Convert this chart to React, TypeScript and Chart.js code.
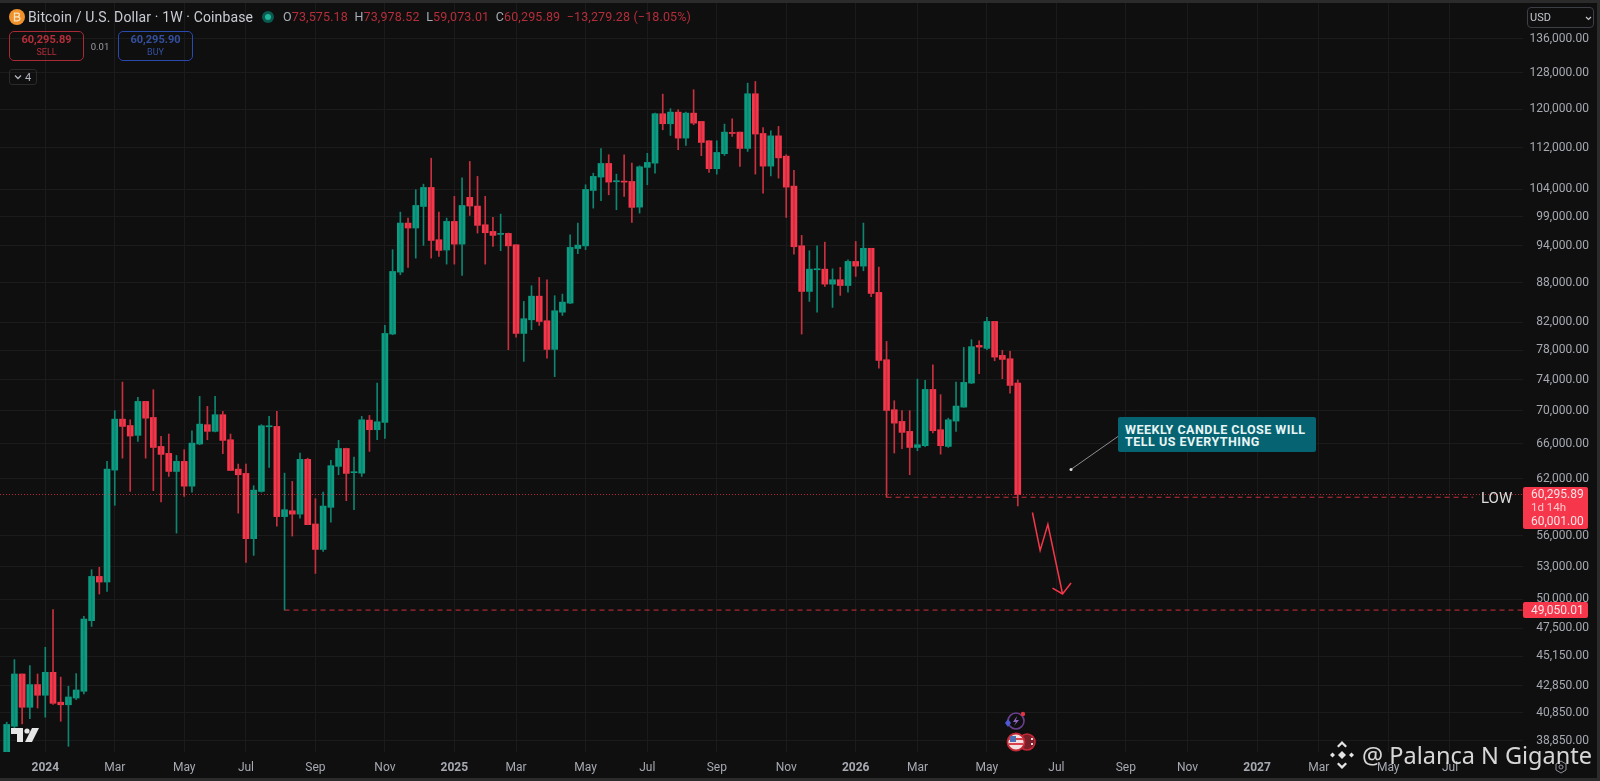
import React, { useEffect, useRef } from "react";
import { Chart, registerables } from "chart.js";

Chart.register(...registerables);

const opens = [37900,39860,43760,41235,42940,42130,43890,41610,41420,41920,42430,48130,52090,51570,62980,68980,68200,67010,71200,69190,65700,64890,62830,63970,61200,65980,68300,67490,69530,66490,63090,62610,55720,60630,68050,68090,57960,58570,58220,64200,57200,54660,58930,63400,65460,62690,62640,68860,67690,68580,
80300,89690,97900,97040,100850,104330,95030,93300,98190,94290,102500,100920,97610,96450,95940,96110,94180,80390,82370,85920,82230,78130,83500,84860,93550,93990,103770,106280,108900,105400,105520,105460,100730,108140,108960,119010,116900,119350,113940,119140,117380,113400,107880,110810,115100,115160,111860,123330,114890,108380,114400,110330,104580,94010,86650,90070,90170,87790,88480,87570,91420,90660,93590,86500,76700,70150,68700,67490,65580,65790,72740,67690,65700,68740,70480,73570,78690,78270,82130,77300,76840,73575.18];
const highs = [40150,44900,43760,44420,43760,45900,49090,43520,42810,43790,48500,52720,52940,63970,70030,73700,68900,71710,71200,72700,66890,67170,64650,65320,67570,71840,70570,71840,69940,67170,63660,63660,61250,68300,69320,69940,62640,61720,64930,64340,59850,60550,64090,66410,65500,64460,69320,69440,73570,81550,
93350,99840,98770,103910,104950,109920,99840,98770,102680,106130,109290,106410,102680,98890,99480,96170,94180,85120,87530,88840,88480,85990,86240,95880,97900,104830,107030,111840,110610,106840,110610,108960,108450,110890,119140,123250,120080,119860,119350,124220,117380,113400,113400,116820,117940,115160,125690,126070,116120,115440,116340,110610,107550,95770,93190,94010,94620,90230,90450,91700,94740,97900,93590,90500,79250,71290,70030,70030,74090,73920,76020,72060,69100,73700,78410,79490,79340,82720,82130,77990,77850,73978.52];
const lows = [37500,39740,40030,40410,41180,40510,41440,40220,38460,41800,42230,47640,50480,50720,59140,64340,60630,66290,64340,60710,59490,62270,56280,60090,60550,65900,66490,67410,64860,62940,58320,53420,54080,60550,63280,56990,49050.01,55980,57810,57130,52370,54470,57400,62460,59630,58680,62270,65120,66490,66650,
80200,89270,90450,91960,94070,91960,92240,90980,90980,89160,99250,96170,90980,93900,93190,78090,79850,76470,80920,81550,76920,74420,83010,84770,92690,93350,100550,101890,102970,100260,102680,98020,99660,104830,107030,115650,114480,111600,112460,116690,110420,107170,106840,110470,114280,108330,111260,106840,103280,106500,106080,98890,92620,80300,85120,83500,87420,84210,86040,86540,89000,89910,85830,75560,60001,64930,65430,62460,65200,65670,67290,64800,65580,67490,70450,73490,74810,78090,76560,74150,72260,59073.01];
const closes = [39990,43760,41235,42940,42130,43890,41530,41420,42000,42530,48270,52090,51570,63090,68980,68090,66930,71200,69100,65580,64770,62830,63970,61200,66090,68370,67490,69530,66410,62940,62460,55720,60770,68170,68120,57960,58680,58220,64200,57130,54660,59060,63480,65460,62610,62800,68900,67690,68660,80390,
89800,97900,97040,101030,104330,94910,93240,98190,94290,101030,100920,97500,96230,95770,96110,93990,80390,82530,85920,82130,78130,83710,85010,93740,94120,103960,106410,108900,105330,105590,105330,100680,108250,109100,119010,116900,119350,113940,119140,117030,113060,107880,111060,115160,114890,111860,123330,114770,108380,114400,109990,104390,93850,86650,90170,90230,87790,88480,87570,91420,90660,93590,86340,76610,70060,68490,67370,65580,65900,72740,67570,65790,68900,70610,73660,78510,78450,82130,77060,76740,73260,60295.89];

const priceTicks = [136000,128000,120000,112000,104000,99000,94000,88000,82000,78000,74000,70000,66000,62000,56000,53000,50000,47500,45150,42850,40850,38850];
const timeTickIndex = [5,14,23,31,40,49,58,66,75,83,92,101,110,118,127,136,145,153,162,170,179,187];
const timeTickLabels = ["2024","Mar","May","Jul","Sep","Nov","2025","Mar","May","Jul","Sep","Nov","2026","Mar","May","Jul","Sep","Nov","2027","Mar","May","Jul"];

const X_MIN = -0.868;
const X_MAX = 196.46;
const Y_MIN = 38070;
const Y_MAX = 145030;

const CLOSE_PRICE = 60295.89;
const LOW_PRICE = 60001;
const LOW_START = 114;
const LOW_END = 190;
const SUPPORT_PRICE = 49050.01;
const SUPPORT_START = 36;

const arrowX = [132.9,133.9,134.9,136.8];
const arrowY = [58390,54570,57160,50480];
const arrowHeadX = [135.5,136.8,137.9];
const arrowHeadY = [51020,50480,51480];
const calloutX = [144,137.9];
const calloutY = [66890,63060];

const UP = "#0b9c82";
const DOWN = "#f5364b";
const UP_WICK = "#0d8570";
const DOWN_WICK = "#c9303f";
const GRID = "#1b1b1b";
const TEXT = "#a6a9b1";
const FONT = "Roboto, sans-serif";

const pts = (xs: number[], ys: number[]) => xs.map((x, i) => ({ x, y: ys[i] }));

function Txt({ x, y, size = 12, color = TEXT, weight = 400, align = "left", children, font = FONT, spacing = 0, w = 200 }: any) {
  const h = Math.round(size * 1.4);
  const left = align === "left" ? x : align === "right" ? x - w : x - w / 2;
  return (
    <div style={{ position: "absolute", left, top: y - h / 2, width: w, height: h, lineHeight: h + "px", fontFamily: font, fontSize: size, fontWeight: weight, color, textAlign: align, whiteSpace: "nowrap", letterSpacing: spacing }}>
      {children}
    </div>
  );
}

function Box({ x, y, w, h, bg = "transparent", border, radius = 4 }: any) {
  return <div style={{ position: "absolute", left: x, top: y, width: w, height: h, boxSizing: "border-box", background: bg, border: border ? `1px solid ${border}` : "none", borderRadius: radius }} />;
}

export default function App() {
  const ref = useRef<HTMLCanvasElement | null>(null);
  useEffect(() => {
    const frame = {
      id: "frame",
      beforeDraw(c: any) {
        const g = c.ctx;
        g.save();
        g.fillStyle = "#2b2b2b";
        g.fillRect(0, 0, c.width, c.height);
        g.fillStyle = "#0f0f0f";
        g.fillRect(0, 3, 1597, 775);
        g.restore();
      },
    };
    const colors = opens.map((o, i) => (closes[i] >= o ? UP : DOWN));
    const wickColors = opens.map((o, i) => (closes[i] >= o ? UP_WICK : DOWN_WICK));
    const lineBase = { type: "line", pointRadius: 0, fill: false, tension: 0, parsing: { xAxisKey: "x", yAxisKey: "y" } };
    const chart = new Chart(ref.current as any, {
      type: "bar",
      data: {
        datasets: [
          { type: "line", ...lineBase, label: "close", data: pts([X_MIN, X_MAX], [CLOSE_PRICE, CLOSE_PRICE]), borderColor: "rgba(242,54,69,0.75)", borderWidth: 1, borderDash: [1, 2] },
          { type: "line", ...lineBase, label: "low", data: pts([LOW_START, LOW_END], [LOW_PRICE, LOW_PRICE]), borderColor: "rgba(242,54,69,0.8)", borderWidth: 1, borderDash: [5, 4] },
          { type: "line", ...lineBase, label: "support", data: pts([SUPPORT_START, X_MAX], [SUPPORT_PRICE, SUPPORT_PRICE]), borderColor: "rgba(242,54,69,0.85)", borderWidth: 1, borderDash: [5, 4] },
          { label: "wick", data: highs.map((h, i) => ({ x: i, y: [lows[i], h] })), backgroundColor: wickColors, barThickness: 1, grouped: false, minBarLength: 1 },
          { label: "body", data: opens.map((o, i) => ({ x: i, y: [o, closes[i]] })), backgroundColor: colors, barThickness: 6, grouped: false, minBarLength: 1 },
          { type: "line", ...lineBase, label: "arrow", data: pts(arrowX, arrowY), borderColor: "#f5364b", borderWidth: 1.5 },
          { type: "line", ...lineBase, label: "arrowHead", data: pts(arrowHeadX, arrowHeadY), borderColor: "#f5364b", borderWidth: 1.5 },
          { type: "line", ...lineBase, label: "callout", data: pts(calloutX, calloutY), borderColor: "#8b8d92", borderWidth: 1, pointRadius: [0, 1.5], pointBackgroundColor: "#e0e0e0", pointBorderWidth: 0 },
        ] as any,
      },
      plugins: [frame],
      options: {
        responsive: false,
        animation: false,
        layout: { autoPadding: false, padding: { left: 0, top: 3, right: 11, bottom: 3 } },
        plugins: { legend: { display: false }, tooltip: { enabled: false } },
        scales: {
          x: {
            type: "linear",
            min: X_MIN,
            max: X_MAX,
            offset: false,
            bounds: "data",
            grid: { color: GRID, offset: false, drawTicks: false },
            border: { display: false },
            afterBuildTicks: (s: any) => { s.ticks = timeTickIndex.map((value) => ({ value })); },
            afterFit: (s: any) => { s.height = 26; s.paddingLeft = 0; s.paddingRight = 0; },
            ticks: {
              autoSkip: false,
              maxRotation: 0,
              padding: 9,
              color: TEXT,
              font: (c: any) => ({ family: FONT, size: 12, weight: /^\d/.test(String(c.tick?.label)) ? "bold" : "normal" }),
              callback: (v: any) => { const k = timeTickIndex.indexOf(v); return k >= 0 ? timeTickLabels[k] : ""; },
            },
          },
          y: {
            type: "logarithmic",
            position: "right",
            min: Y_MIN,
            max: Y_MAX,
            bounds: "data",
            grid: { color: GRID, drawTicks: false },
            border: { display: false },
            afterBuildTicks: (s: any) => { s.ticks = priceTicks.map((value) => ({ value })); },
            afterFit: (s: any) => { s.width = 66; s.paddingTop = 0; s.paddingBottom = 0; },
            ticks: {
              autoSkip: false,
              crossAlign: "far",
              padding: 7,
              color: TEXT,
              font: { family: FONT, size: 12 },
              callback: (v: any) => Number(v).toLocaleString("en-US", { minimumFractionDigits: 2, maximumFractionDigits: 2 }),
            },
          },
        },
      } as any,
    });
    return () => chart.destroy();
  }, []);

  const red = "#b52e3a";
  const grey = "#a9acb5";
  return (
    <div style={{ position: "fixed", left: 0, top: 0, width: 1600, height: 781, overflow: "hidden" }}>
      <canvas ref={ref} width={1600} height={781} style={{ display: "block", position: "absolute", left: 0, top: 0 }} />

      {/* header */}
      <div style={{ position: "absolute", left: 9, top: 9, width: 16, height: 16, borderRadius: 8, background: "#f0922b" }} />
      <svg style={{ position: "absolute", left: 13, top: 12 }} width="8" height="10" viewBox="0 0 8 10">
        <path d="M1.5 0.5 V9.5 M1.5 1.2 H4.6 Q6.6 1.4 6.4 3 Q6.2 4.6 4.4 4.8 H1.5 M4.4 4.8 Q7.3 5 7 6.9 Q6.7 8.7 4.4 8.8 H1.5" fill="none" stroke="#fbe3c4" strokeWidth="1.3" />
      </svg>
      <Txt x={28} y={17} size={14} color="#c9ccd4" w={240} spacing={0.13}>Bitcoin / U.S. Dollar · 1W · Coinbase</Txt>
      <div style={{ position: "absolute", left: 262, top: 11, width: 12, height: 12, borderRadius: 6, background: "#0a5a50" }} />
      <div style={{ position: "absolute", left: 265, top: 14, width: 6, height: 6, borderRadius: 3, background: "#1fb59a" }} />
      <Txt x={283} y={17} size={12.5} color={grey} w={420} spacing={0.14}>
        O<span style={{ color: red }}>73,575.18</span>&nbsp;&nbsp;H<span style={{ color: red }}>73,978.52</span>&nbsp;&nbsp;L<span style={{ color: red }}>59,073.01</span>&nbsp;&nbsp;C<span style={{ color: red }}>60,295.89</span>&nbsp;&nbsp;<span style={{ color: red }}>−13,279.28 (−18.05%)</span>
      </Txt>

      <Box x={9} y={31} w={75} h={30} border="#a82a35" radius={5} />
      <Txt x={46.5} y={39.5} size={11} weight={700} color={red} w={75} align="center">60,295.89</Txt>
      <Txt x={46.5} y={52} size={9} color={red} w={75} align="center">SELL</Txt>
      <Txt x={100} y={46} size={9.5} color="#9a9da5" w={30} align="center">0.01</Txt>
      <Box x={118} y={31} w={75} h={30} border="#2a49ad" radius={5} />
      <Txt x={155.5} y={39.5} size={11} weight={700} color="#34509f" w={75} align="center">60,295.90</Txt>
      <Txt x={155.5} y={52} size={9} color="#34509f" w={75} align="center">BUY</Txt>

      <Box x={9} y={69} w={28} h={16} border="#2a2a2a" radius={3} />
      <svg style={{ position: "absolute", left: 14, top: 74 }} width="8" height="6" viewBox="0 0 8 6"><path d="M1 1.5 L4 4.5 L7 1.5" fill="none" stroke="#b2b5be" strokeWidth="1.3" /></svg>
      <Txt x={25} y={77} size={11} color="#b2b5be" w={10}>4</Txt>

      {/* currency */}
      <Box x={1527} y={7} w={67} h={21} border="#3c3f46" radius={4} />
      <Txt x={1530} y={17} size={11} color="#c4c7ce" w={30}>USD</Txt>
      <svg style={{ position: "absolute", left: 1585, top: 16 }} width="7" height="5" viewBox="0 0 7 5"><path d="M1 1 L3.5 3.5 L6 1" fill="none" stroke="#c4c7ce" strokeWidth="1.2" /></svg>

      {/* callout */}
      <Box x={1118} y={417} w={198} h={35} bg="#066472" radius={2} />
      <Txt x={1125} y={429.5} size={12.5} weight={700} color="#e8f5f6" w={190} spacing={0.5}>WEEKLY CANDLE CLOSE WILL</Txt>
      <Txt x={1125} y={441.5} size={12.5} weight={700} color="#e8f5f6" w={190} spacing={0.5}>TELL US EVERYTHING</Txt>

      {/* price labels */}
      <Txt x={1481} y={498} size={15} color="#dcdcdc" w={36}>LOW</Txt>
      <Box x={1523} y={487} w={65} h={42} bg="#f5364b" radius={2} />
      <Txt x={1531} y={494.5} size={12} color="#ffe3e6" w={56}>60,295.89</Txt>
      <Txt x={1531} y={506.5} size={11.5} color="#ffc9cf" w={56}>1d 14h</Txt>
      <Txt x={1531} y={521} size={12} color="#ffe3e6" w={56}>60,001.00</Txt>
      <Box x={1523} y={602} w={65} h={16} bg="#f5364b" radius={2} />
      <Txt x={1531} y={610} size={12} color="#ffe3e6" w={56}>49,050.01</Txt>

      {/* TV logo */}
      <svg style={{ position: "absolute", left: 11, top: 728 }} width="28" height="14" viewBox="0 0 28 14">
        <path d="M0 0 H12 V14 H6 V6 H0 Z" fill="#e6e6e6" />
        <circle cx="16" cy="3" r="2.6" fill="#e6e6e6" />
        <path d="M21 0 H28 L21 14 H14 Z" fill="#e6e6e6" />
      </svg>

      {/* event icons */}
      <svg style={{ position: "absolute", left: 1002, top: 708 }} width="36" height="46" viewBox="0 0 36 46">
        <circle cx="14" cy="13" r="8" fill="none" stroke="#6a3f8f" strokeWidth="1.6" />
        <path d="M15 8 L11 14 H14 L12 18 L17 12 H14 Z" fill="#8e63c4" />
        <path d="M6 11 L9 15 L6 19 L3 15 Z" fill="#4f58d6" />
        <circle cx="21" cy="6" r="2.2" fill="#e2333f" />
        <circle cx="25" cy="34" r="8" fill="#7a1f28" stroke="#c32a36" strokeWidth="1.6" />
        <circle cx="14" cy="34" r="8.5" fill="#f3dfe0" stroke="#c32a36" strokeWidth="1.8" />
        <rect x="7" y="30" width="14" height="2" fill="#d8404c" />
        <rect x="7" y="35" width="14" height="2" fill="#d8404c" />
        <rect x="8" y="28" width="6" height="6" fill="#4d6fb3" />
        <rect x="29" y="30" width="2" height="2" fill="#f3dfe0" />
        <rect x="29" y="35" width="2" height="2" fill="#f3dfe0" />
      </svg>

      {/* settings glyph */}
      <svg style={{ position: "absolute", left: 1554, top: 760 }} width="14" height="14" viewBox="0 0 14 14">
        <path d="M7 1 L12 4 V10 L7 13 L2 10 V4 Z" fill="none" stroke="#8f9299" strokeWidth="1" />
        <circle cx="7" cy="7" r="2" fill="none" stroke="#8f9299" strokeWidth="1" />
      </svg>

      {/* watermark */}
      <svg style={{ position: "absolute", left: 1328, top: 741 }} width="28" height="28" viewBox="0 0 28 28" fill="#e4e4e4">
        <path d="M14 0 L19 5 L17.4 6.6 L14 3.2 L10.6 6.6 L9 5 Z" />
        <path d="M14 28 L9 23 L10.6 21.4 L14 24.8 L17.4 21.4 L19 23 Z" />
        <path d="M4.5 11.5 L7 14 L4.5 16.5 L2 14 Z" />
        <path d="M23.5 11.5 L26 14 L23.5 16.5 L21 14 Z" />
        <path d="M14 10 L18 14 L14 18 L10 14 Z" />
      </svg>
      <Txt x={1362} y={755} size={23.5} color="rgba(232,232,232,0.92)" font="'Noto Sans', sans-serif" w={235}>@ Palanca N Gigante</Txt>
    </div>
  );
}
